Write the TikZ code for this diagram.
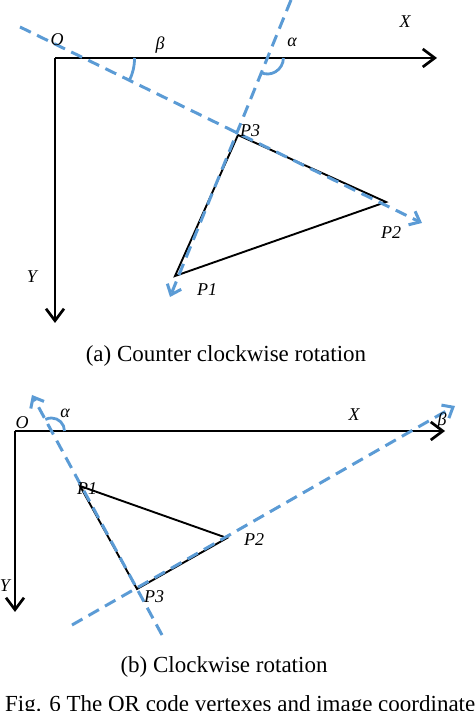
\documentclass[tikz,border=0pt]{standalone}
\usepackage{fontspec}
\setmainfont{Liberation Serif}
\usetikzlibrary{arrows.meta}
\definecolor{guideblue}{RGB}{91,155,213}

\begin{document}
\begin{tikzpicture}[x=1pt,y=1pt,
 axis/.style={line width=2.7pt,-{Straight Barb[length=12pt,width=18pt]}},
 edge/.style={line width=1.9pt},
 guide/.style={guideblue,line width=3pt,dash pattern=on 12pt off 7pt},
 guidetip/.style={guide,-{Straight Barb[length=9pt,width=15pt]}},
 angarc/.style={guideblue,line width=2.8pt},
 lbl/.style={font=\fontsize{18}{18}\selectfont\itshape,inner sep=0pt},
 captxt/.style={font=\fontsize{23}{23}\selectfont,inner sep=0pt}]
\useasboundingbox (0,0) rectangle (474,711);
\clip (0,0) rectangle (474,711);

% (a) counter clockwise rotation
\coordinate (aO) at (55,653);
\coordinate (aX) at (437,653);
\coordinate (aY) at (55,388);
\coordinate (aP1) at (175,435);
\coordinate (aP2) at (386,509);
\coordinate (aP3) at (238,576);
\coordinate (aL1s) at (20,684);
\coordinate (aL1e) at (422,488);
\coordinate (aL2s) at (291,711);
\coordinate (aL2e) at (170,414);
\coordinate (aCb) at (83.6,653);
\coordinate (aCa) at (267.4,653);

\draw[axis] (aO) -- (aX);
\draw[axis] (aO) -- (aY);
\draw[edge] (aP1) -- (aP2) -- (aP3) -- cycle;
\draw[guidetip] (aL1s) -- (aL1e);
\draw[guidetip] (aL2s) -- (aL2e);
\draw[angarc] ([shift={(0:51)}]aCb) arc[start angle=0,end angle=-26,radius=51];
\draw[angarc] ([shift={(0:16)}]aCa) arc[start angle=0,end angle=-112,radius=16];

\node[lbl] (aOlbl) at (57,671) {O};
\node[lbl] (aXlbl) at (405,689) {X};
\node[lbl] (aYlbl) at (32,434) {Y};
\node[lbl] (ablbl) at (160,666) {β};
\node[lbl] (aalbl) at (292,669) {α};
\node[lbl] (aP1lbl) at (207,421) {P1};
\node[lbl] (aP2lbl) at (391,478) {P2};
\node[lbl] (aP3lbl) at (250,580) {P3};
\node[captxt] (acap) at (226,355) {(a) Counter clockwise rotation};

% (b) clockwise rotation
\coordinate (bO) at (15,280);
\coordinate (bX) at (445,280);
\coordinate (bY) at (15,99);
\coordinate (bP1) at (80,225);
\coordinate (bP2) at (227,173);
\coordinate (bP3) at (137,122);
\coordinate (bLAs) at (162,76);
\coordinate (bLAe) at (32,316);
\coordinate (bLBs) at (72,86);
\coordinate (bLBe) at (455,305);
\coordinate (bCa) at (51.5,280);

\draw[axis] (bO) -- (bX);
\draw[axis] (bO) -- (bY);
\draw[edge] (bP1) -- (bP2) -- (bP3) -- cycle;
\draw[guidetip] (bLAs) -- (bLAe);
\draw[guidetip] (bLBs) -- (bLBe);
\draw[angarc] ([shift={(0:13)}]bCa) arc[start angle=0,end angle=118,radius=13];

\node[lbl] (bOlbl) at (22,288) {O};
\node[lbl] (bXlbl) at (354,296) {X};
\node[lbl] (bYlbl) at (5,125) {Y};
\node[lbl] (balbl) at (65,298) {α};
\node[lbl] (bblbl) at (442,290) {β};
\node[lbl] (bP1lbl) at (87,222) {P1};
\node[lbl] (bP2lbl) at (254,171) {P2};
\node[lbl] (bP3lbl) at (154,114) {P3};
\node[captxt] (bcap) at (224,44) {(b) Clockwise rotation};

\node[captxt,anchor=base west] (figcap) at (5,-1) {Fig. 6 The QR code vertexes and image coordinates};
\end{tikzpicture}
\end{document}
